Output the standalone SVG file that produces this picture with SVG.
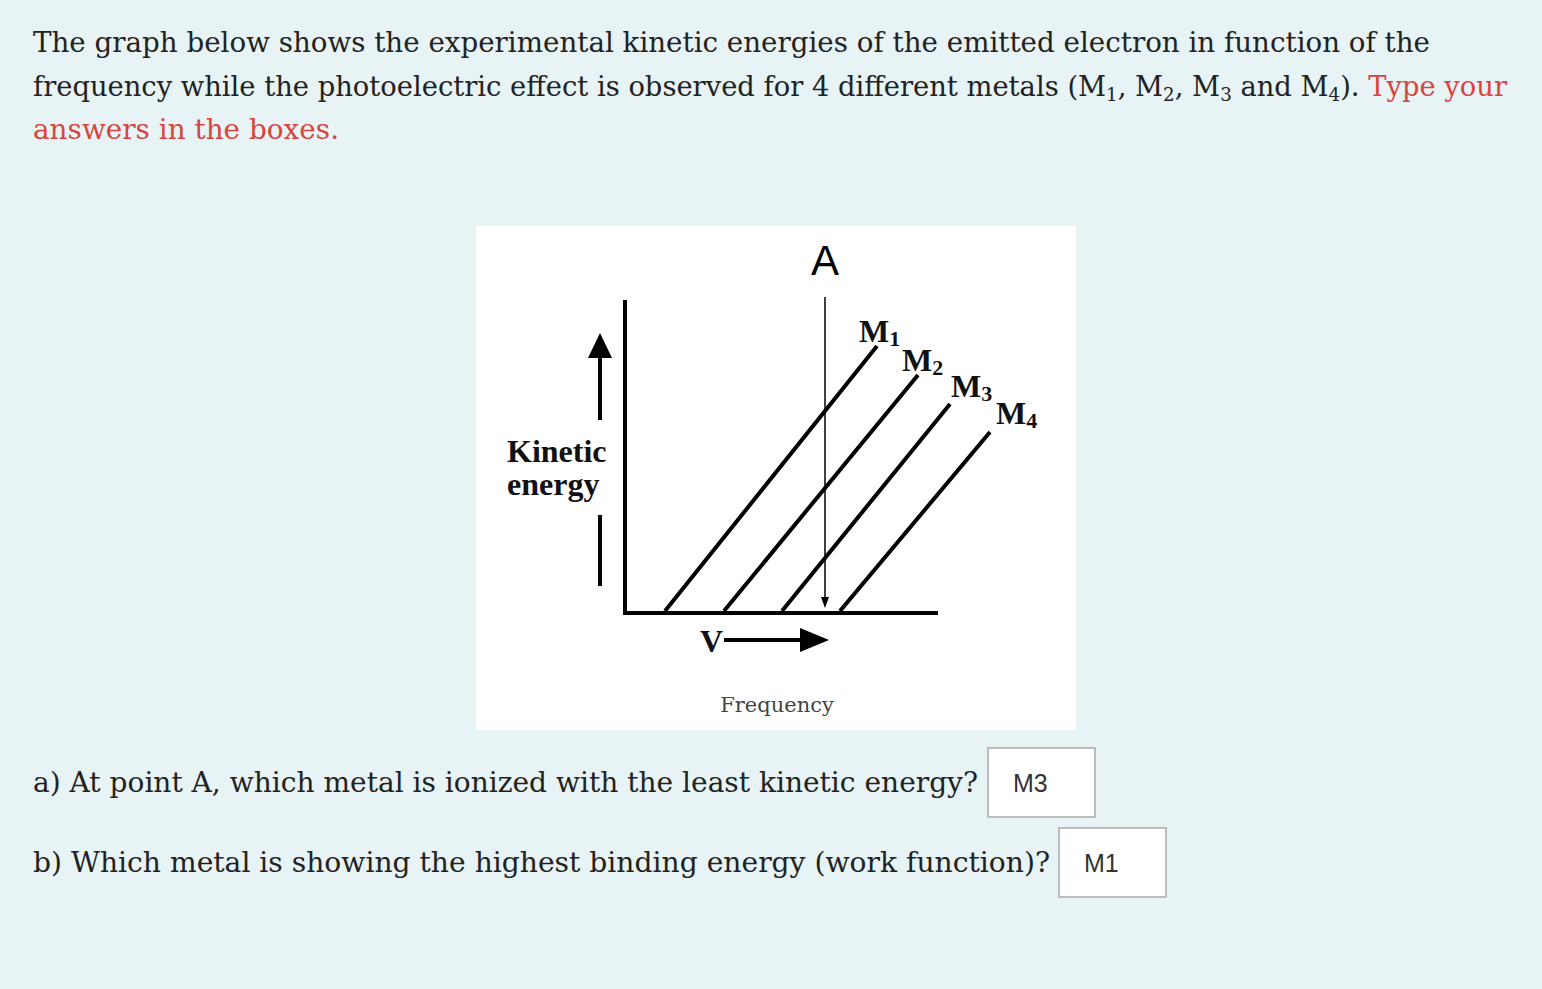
<svg xmlns="http://www.w3.org/2000/svg" width="1542" height="989" viewBox="0 0 1542 989">
<style>
.t{font-family:"DejaVu Serif",serif;font-size:27px;fill:#222}
.r{fill:#d9453d}
.g{stroke:#000;stroke-width:4;fill:none}
.m{font-family:"Liberation Serif",serif;font-weight:bold;font-size:32px;fill:#111}
.box{fill:#fff;stroke:#aaa;stroke-width:1.5}
.a{font-family:"Liberation Sans",sans-serif;font-size:25px;fill:#333}
</style>
<rect width="1542" height="989" fill="#e7f3f5"/>
<text class="t" x="33" y="52" textLength="1397" lengthAdjust="spacingAndGlyphs">The graph below shows the experimental kinetic energies of the emitted electron in function of the</text>
<text class="t" x="33" y="96" textLength="1474" lengthAdjust="spacingAndGlyphs">frequency while the photoelectric effect is observed for 4 different metals (M<tspan font-size="18" dy="5">1</tspan><tspan dy="-5">, M</tspan><tspan font-size="18" dy="5">2</tspan><tspan dy="-5">, M</tspan><tspan font-size="18" dy="5">3</tspan><tspan dy="-5"> and M</tspan><tspan font-size="18" dy="5">4</tspan><tspan dy="-5">). </tspan><tspan class="r">Type your</tspan></text>
<text class="t r" x="33" y="139" textLength="306" lengthAdjust="spacingAndGlyphs">answers in the boxes.</text>
<g id="graph">
<rect x="476" y="226" width="600" height="504" fill="#fff"/>
<text x="825" y="275" font-family="Liberation Sans,sans-serif" font-size="42" text-anchor="middle">A</text>
<path class="g" d="M625,300 V613 H938"/>
<path class="g" d="M665,611 L877,346 M724,611 L918,375 M782,611 L950,404 M840,611 L990,432"/>
<line x1="825" y1="297" x2="825" y2="598" stroke="#000" stroke-width="1.5"/>
<path d="M821,597 L829,597 L825,608 Z"/>
<path class="g" d="M600,420 V355 M600,515 V586"/>
<path d="M588,358 L600,333 L612,358 Z"/>
<text class="m" x="507" y="462" font-size="29">Kinetic</text>
<text class="m" x="507" y="495" font-size="29">energy</text>
<text class="m" x="700" y="652" font-size="30">V</text>
<path class="g" d="M724,640 H805"/>
<path d="M800,628 L829,640 L800,652 Z"/>
<text class="m" x="859" y="342">M<tspan font-size="22" dy="4">1</tspan></text>
<text class="m" x="902" y="371">M<tspan font-size="22" dy="4">2</tspan></text>
<text class="m" x="951" y="397">M<tspan font-size="22" dy="4">3</tspan></text>
<text class="m" x="996" y="424">M<tspan font-size="22" dy="4">4</tspan></text>
<text x="777" y="712" font-family="DejaVu Serif,serif" font-size="21" fill="#444" text-anchor="middle">Frequency</text>
</g>
<text class="t" x="33" y="792" textLength="945" lengthAdjust="spacingAndGlyphs">a) At point A, which metal is ionized with the least kinetic energy?</text>
<g id="boxA"><rect class="box" x="988" y="748" width="107" height="69"/><text class="a" x="1013" y="792">M3</text></g>
<text class="t" x="33" y="872" textLength="1017" lengthAdjust="spacingAndGlyphs">b) Which metal is showing the highest binding energy (work function)?</text>
<g id="boxB"><rect class="box" x="1059" y="828" width="107" height="69"/><text class="a" x="1084" y="872">M1</text></g>
</svg>
